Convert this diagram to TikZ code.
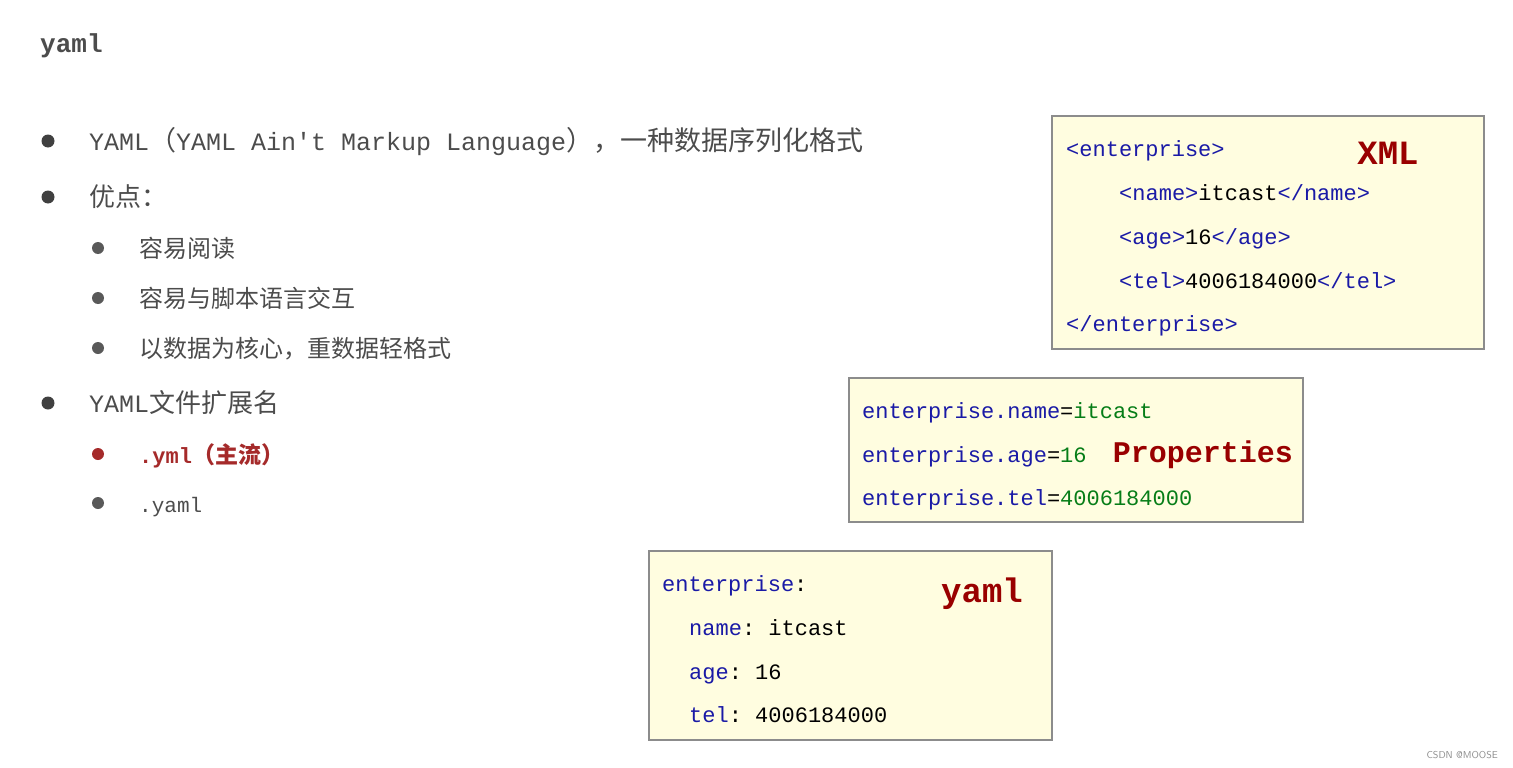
\documentclass[tikz,border=0pt]{standalone}
\usepackage{fontspec}
\setmainfont{Liberation Sans}
\setmonofont{Liberation Mono}
\newfontfamily\cjk{Noto Sans CJK SC}
\begin{document}
\begin{tikzpicture}[x=1pt,y=-1pt,
  txt/.style={anchor=base west,inner sep=0pt,text=black!70},
  code/.style={anchor=base west,inner sep=0pt,font=\fontsize{22}{24}\ttfamily},
  box/.style={draw=black!45,line width=1.5pt,fill=yellow!12},
  lbl/.style={anchor=base,inner sep=0pt,text=red!60!black,font=\fontsize{34}{38}\ttfamily\bfseries},
  bul/.style={circle,fill=black!75,inner sep=0pt,minimum size=13pt},
  sbul/.style={circle,fill=black!65,inner sep=0pt,minimum size=12pt}]
\definecolor{kb}{HTML}{1A1AA6}
\definecolor{kg}{HTML}{067D17}
\definecolor{kr}{HTML}{A52A2A}
\useasboundingbox (0,0) rectangle (1513,768);
\node[txt,font=\fontsize{26}{30}\ttfamily\bfseries] (t) at (40,53) {yaml};
% bullets
\node[bul] (b1) at (48,141) {};
\node[txt,font=\fontsize{25}{28}\ttfamily] (l1) at (89,150) {YAML{\fontsize{27}{30}\cjk （}YAML Ain't Markup Language{\fontsize{27}{30}\cjk ），一种数据序列化格式}};
\node[bul] (b2) at (48,197) {};
\node[txt,font=\fontsize{26}{28}\cjk] (l2) at (89,206) {优点：};
\node[sbul] (s1) at (98,248) {};
\node[txt,font=\fontsize{24}{26}\cjk] (l3) at (139,257) {容易阅读};
\node[sbul] (s2) at (98,298) {};
\node[txt,font=\fontsize{24}{26}\cjk] (l4) at (139,307) {容易与脚本语言交互};
\node[sbul] (s3) at (98,348) {};
\node[txt,font=\fontsize{24}{26}\cjk] (l5) at (139,357) {以数据为核心，重数据轻格式};
\node[bul] (b3) at (48,403) {};
\node[txt,font=\fontsize{25}{28}\ttfamily] (l6) at (89,412) {YAML{\fontsize{26}{28}\cjk 文件扩展名}};
\node[sbul,fill=kr] (s4) at (98,454) {};
\node[txt,text=kr,font=\fontsize{22}{26}\ttfamily\bfseries] (l7) at (139,463) {.yml{\fontsize{23}{26}\cjk （主流）}};
\node[sbul] (s5) at (98,503) {};
\node[txt,font=\fontsize{21}{26}\ttfamily] (l8) at (139,512) {.yaml};
% XML box
\draw[box] (1052,116) rectangle (1484,349);
\node[code] (x1) at (1066,156) {{\color{kb}<enterprise>}};
\node[code] (x2) at (1119,200) {{\color{kb}<name>}itcast{\color{kb}</name>}};
\node[code] (x3) at (1119,244) {{\color{kb}<age>}16{\color{kb}</age>}};
\node[code] (x4) at (1119,288) {{\color{kb}<tel>}4006184000{\color{kb}</tel>}};
\node[code] (x5) at (1066,331) {{\color{kb}</enterprise>}};
\node[lbl] (xl) at (1388,164) {XML};
% properties
\draw[box] (849,378) rectangle (1303,522);
\node[code] (p1) at (862,418) {{\color{kb}enterprise.name}={\color{kg}itcast}};
\node[code] (p2) at (862,462) {{\color{kb}enterprise.age}={\color{kg}16}};
\node[code] (p3) at (862,505) {{\color{kb}enterprise.tel}={\color{kg}4006184000}};
\node[lbl,font=\fontsize{30}{34}\ttfamily\bfseries] (pl) at (1203,462) {Properties};
% yaml
\draw[box] (649,551) rectangle (1052,740);
\node[code] (y1) at (662,591) {{\color{kb}enterprise}:};
\node[code] (y2) at (689,635) {{\color{kb}name}: itcast};
\node[code] (y3) at (689,679) {{\color{kb}age}: 16};
\node[code] (y4) at (689,722) {{\color{kb}tel}: 4006184000};
\node[lbl] (yl) at (982,602) {yaml};
\node[anchor=base east,inner sep=0pt,text=black!45,font=\fontsize{10}{12}\sffamily] (w) at (1498,758) {CSDN @MOOSE};
\end{tikzpicture}
\end{document}
